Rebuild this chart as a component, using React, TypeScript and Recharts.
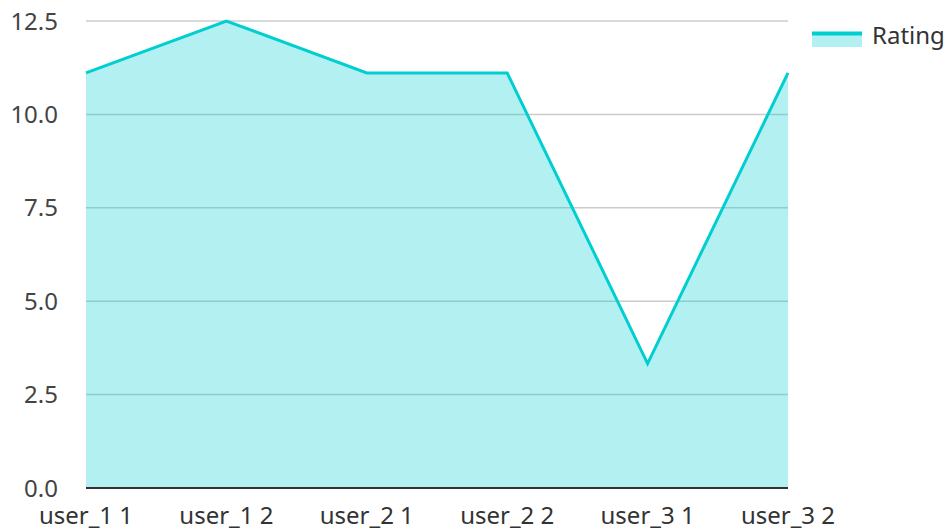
import React from 'react';
import { AreaChart, Area, XAxis, YAxis, CartesianGrid } from 'recharts';

const categories = ['user_1 1', 'user_1 2', 'user_2 1', 'user_2 2', 'user_3 1', 'user_3 2'];
const ratings = [11.11, 12.5, 11.11, 11.11, 3.33, 11.11];
const yTicks = [0, 2.5, 5, 7.5, 10, 12.5];

const LINE_COLOR = '#00CED1';
const FONT = '"Noto Sans", "Open Sans", sans-serif';

const data = categories.map((name, i) => ({ name, Rating: ratings[i] }));

const App: React.FC = () => {
  return (
    <div style={{ position: 'absolute', left: 0, top: 0, width: 947, height: 529, fontFamily: FONT, background: '#fff' }}>
      <AreaChart width={947} height={529} data={data} margin={{ top: 21, right: 159, left: 0, bottom: 0 }}>
        <CartesianGrid vertical={false} stroke="#cccccc" strokeWidth={1.5} />
        <XAxis
          dataKey="name"
          height={41}
          tickLine={false}
          tickMargin={13}
          axisLine={{ stroke: '#333', strokeWidth: 2 }}
          tick={{ fill: '#333', fontSize: 24, fontFamily: FONT }}
          interval={0}
        />
        <YAxis
          width={86}
          domain={[0, 12.5]}
          ticks={yTicks}
          tickFormatter={(v: number) => v.toFixed(1)}
          axisLine={false}
          tickLine={false}
          tickMargin={22}
          tick={{ fill: '#444', fontSize: 24, fontFamily: FONT }}
        />
        <Area
          type="linear"
          dataKey="Rating"
          stroke={LINE_COLOR}
          strokeWidth={3}
          fill={LINE_COLOR}
          fillOpacity={0.3}
          dot={false}
          activeDot={false}
          isAnimationActive={false}
        />
      </AreaChart>
      {/* legend */}
      <div style={{ position: 'absolute', left: 812, top: 18, display: 'flex', alignItems: 'center' }}>
        <svg width={50} height={30}>
          <rect x={0} y={12} width={50} height={15} fill={LINE_COLOR} fillOpacity={0.3} />
          <line x1={0} x2={50} y1={13.5} y2={13.5} stroke={LINE_COLOR} strokeWidth={4} />
        </svg>
        <span style={{ marginLeft: 10, fontSize: 24, color: '#333' }}>Rating</span>
      </div>
    </div>
  );
};

export default App;
